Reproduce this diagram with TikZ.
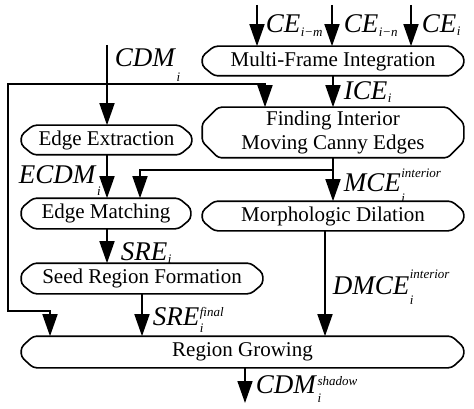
\documentclass[tikz,border=0pt]{standalone}
\usepackage{fontspec}
\setmainfont{Liberation Serif}
\usetikzlibrary{arrows.meta,positioning}

% label with sub- and superscript: main, drop, sub, raise, sup
\newcommand\scf{\fontsize{13}{13}\selectfont}
\newcommand\lab[5]{\textit{#1}\kern0.5pt\ooalign{\raisebox{-#2}{\scf\textit{#3}}\cr\raisebox{#4}{\scf\textit{#5}}\cr}}

\begin{document}
\begin{tikzpicture}[x=1pt,y=-1pt,line width=1.6pt,
box/.style={rectangle, inner sep=0pt, align=center, font=\fontsize{21}{24}\selectfont},
lbl/.style={anchor=base west, inner sep=0pt, font=\fontsize{27}{30}\selectfont},
flow/.style={-{Triangle[length=22pt,width=15pt]}}
]
\useasboundingbox (0,0) rectangle (474,409);

% boxes
\node[box, minimum width=260pt, minimum height=28pt] (mfi) at (333,61) {Multi-Frame Integration};
\node[box, minimum width=260pt, minimum height=49pt] (fim) at (333,132.5) {Finding Interior\\Moving Canny Edges};
\node[box, minimum width=169pt, minimum height=28pt] (ee) at (106.5,140) {Edge Extraction};
\node[box, minimum width=168pt, minimum height=29pt] (em) at (106,213.5) {Edge Matching};
\node[box, minimum width=260pt, minimum height=28pt] (md) at (333,216) {Morphologic Dilation};
\node[box, minimum width=240pt, minimum height=29pt] (srf) at (142,278.5) {Seed Region Formation};
\node[box, minimum width=441pt, minimum height=30pt] (rg) at (242.5,352) {Region Growing};

% chamfered outlines
\foreach \n/\cx/\cy in {mfi/12/10,fim/16/16,ee/12/10,em/12/10,md/12/10,srf/12/10,rg/12/11}
  \draw[rounded corners=3.5pt] ([xshift=\cx pt]\n.north west) -- ([xshift=-\cx pt]\n.north east)
    -- ([yshift=-\cy pt]\n.north east) -- ([yshift=\cy pt]\n.south east)
    -- ([xshift=-\cx pt]\n.south east) -- ([xshift=\cx pt]\n.south west)
    -- ([yshift=\cy pt]\n.south west) -- ([yshift=-\cy pt]\n.north west) -- cycle;

% inputs
\foreach \x/\n in {257/a,332/b,411/c}{
  \coordinate (ce\n) at (\x,5);
  \draw[flow] (ce\n) -- (ce\n |- mfi.north);
}
\coordinate (cdm) at (107,45);
\draw[flow] (cdm) -- (cdm |- ee.north);

% CDM loop
\coordinate (jn) at (107,84);
\coordinate (fin) at (265,84);
\coordinate (lt) at (8,84);
\coordinate (lb) at (8,311);
\coordinate (rgin) at (50,311);
\draw[flow] (jn) -- (fin) -- (fin |- fim.north);
\draw[flow] (jn) -- (lt) -- (lb) -- (rgin) -- (rgin |- rg.north);

% right branch
\draw[flow] (mfi.south) -- (fim.north);
\draw[flow] (fim.south) -- (md.north);
\coordinate (br) at (333,170);
\coordinate (emin) at (140,170);
\draw[flow] (br) -- (emin) -- (emin |- em.north);
\coordinate (dm) at (325,230);
\draw[flow] (md.south -| dm) -- (rg.north -| dm);

% left branch
\draw[flow] (ee.south -| cdm) -- (em.north -| cdm);
\draw[flow] (em.south -| cdm) -- (srf.north -| cdm);
\draw[flow] (srf.south) -- (srf.south |- rg.north);
\coordinate (out) at (245,403);
\draw[flow] (rg.south -| out) -- (out);

% labels
\node[lbl] (lcem) at (265,33) {\lab{CE}{4pt}{i−m}{0pt}{}};
\node[lbl] (lcen) at (343,33) {\lab{CE}{4pt}{i−n}{0pt}{}};
\node[lbl] (lcei) at (421,33) {\lab{CE}{3pt}{i}{0pt}{}};
\node[lbl] (lcdm) at (114,67) {\lab{CDM}{15pt}{i}{0pt}{}};
\node[lbl] (lice) at (343,100) {\lab{ICE}{3pt}{i}{0pt}{}};
\node[lbl] (lecdm) at (18,183) {\lab{ECDM}{12pt}{i}{0pt}{}};
\node[lbl] (lmce) at (343,192) {\lab{MCE}{10pt}{i}{14pt}{interior}};
\node[lbl] (lsre) at (120,260) {\lab{SRE}{3pt}{i}{0pt}{}};
\node[lbl] (ldmce) at (332,294) {\lab{DMCE}{10pt}{i}{16pt}{interior}};
\node[lbl] (lsrf) at (152,325) {\lab{SRE}{7pt}{i}{9pt}{final}};
\node[lbl] (lout) at (255,393) {\lab{CDM}{9pt}{i}{8pt}{shadow}};
\end{tikzpicture}
\end{document}
